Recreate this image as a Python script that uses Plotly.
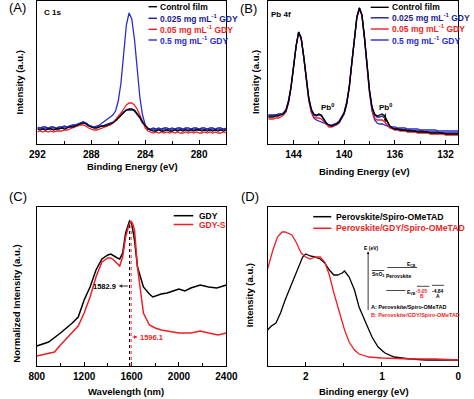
import numpy as np
import plotly.graph_objects as go

W, H = 474, 399
FONT = "Liberation Sans, Arial, sans-serif"

# ---------------- Panel A: C 1s ----------------
a_energy = np.round(292.0 - 0.2 * np.arange(71), 2)
a_control = [14,13,14,13,14,14,13,14,14,15,14,15,16,16,17,18,19,20,19,17,16,15,15,16,17,17,18,19,20,22,
             25,28,31,33,34,34,33,30,26,21,17,14,13,12,12,13,12,12,13,12,12,13,12,13,12,13,12,13,12,13,
             13,12,13,12,13,12,13,12,13,12,13]
a_g0025 = [16,15,16,16,15,16,16,15,16,16,17,16,17,18,18,19,20,21,20,18,17,16,16,17,17,18,19,20,21,23,
           26,29,31,33,33,33,32,29,25,20,17,15,14,15,14,15,14,15,15,14,15,14,15,15,14,15,15,14,15,15,
           14,15,15,14,15,15,14,15,15,14,15]
a_g005 = [11,12,11,12,11,12,11,12,12,12,13,13,14,15,16,17,18,18,17,15,14,13,13,14,15,16,17,18,20,23,
          26,30,34,38,40,40,38,34,28,21,15,12,11,10,11,10,11,10,11,10,11,10,11,10,10,11,10,11,10,11,
          10,10,11,10,11,10,11,10,10,11,10]
a_g05 = [14,15,14,15,14,15,15,14,15,15,16,16,17,17,18,19,20,21,20,18,16,16,17,18,20,22,24,26,28,32,
         42,60,92,118,130,124,104,74,46,28,18,14,13,14,13,14,13,14,13,14,13,14,13,14,13,14,13,14,13,14,
         13,14,13,14,13,14,13,14,13,14,13]

# ---------------- Panel B: Pb 4f ----------------
b_energy = np.round(146.0 - 0.2 * np.arange(76), 2)
b_control = [28,28,28,29,29,30,31,34,43,58,78,99,113,107,89,66,47,36,31,30,31,30,26,22,20,19,20,21,23,27,
             32,42,58,82,108,128,137,130,108,80,55,38,31,29,30,31,29,24,19,17,16,16,15,15,15,14,14,14,14,13,
             13,13,13,13,12,12,12,12,12,12,11,11,11,11,11,11]
b_g005 = [26,26,26,27,27,28,30,33,42,57,77,98,112,106,88,64,45,33,28,27,27,26,23,20,18,18,19,20,22,26,
          31,41,57,81,107,127,136,129,106,78,52,35,27,25,25,25,23,20,17,16,15,15,14,14,14,13,13,13,13,12,
          12,12,12,12,11,11,11,11,11,11,10,10,10,10,10,10]
b_g0025 = [30,30,30,30,31,31,32,35,44,58,78,99,113,107,89,66,47,35,30,29,30,29,25,21,20,19,20,21,23,27,
           32,42,58,82,108,128,137,130,108,79,54,37,30,28,28,29,27,23,19,17,16,16,16,15,15,15,15,14,14,14,
           14,14,13,13,13,13,13,13,12,12,12,12,12,12,12,12]
b_g05 = [29,29,29,30,30,31,32,35,44,58,78,99,113,107,88,64,45,33,27,25,24,23,22,21,20,20,21,22,24,28,
         33,43,59,83,108,128,137,130,107,78,52,34,25,22,21,21,20,19,18,18,18,17,17,17,17,16,16,16,16,16,
         15,15,15,15,15,15,15,14,14,14,14,14,14,14,14,14]
assert len(a_control) == len(a_g0025) == len(a_g005) == len(a_g05) == len(a_energy)
assert len(b_control) == len(b_g005) == len(b_g0025) == len(b_g05) == len(b_energy)

# ---------------- Panel C: spectra ----------------
c_gdy_wl = [800,900,1000,1100,1150,1200,1250,1300,1350,1400,1425,1450,1480,1500,1525,1550,1570,1583,1600,
            1625,1650,1700,1750,1780,1850,1900,1950,2000,2050,2100,2180,2250,2320,2400]
c_gdy = [18,22,31,41,47,64,77,94,105,109,110,108,106,105,111,131,140,143,141,
         124,97,77,70,67,70,71,73,75,73,76,79,77,76,79]
c_gdys_wl = [800,900,950,1000,1100,1150,1200,1250,1300,1350,1400,1425,1450,1500,1525,1550,1575,1596,1610,
             1625,1650,1675,1700,1750,1800,1850,1900,2000,2100,2180,2250,2330,2400]
c_gdys = [8,11,12,19,31,38,51,67,87,102,106,106,104,98,107,127,138,143,140,
          134,97,71,51,39,36,34,33,31,31,33,31,29,31]
c_peaks = [1582.9, 1596.1]

# ---------------- Panel D: UPS ----------------
d_ref_e = [2.5,2.45,2.39,2.33,2.27,2.18,2.10,2.04,2.0,1.94,1.88,1.81,1.75,1.69,1.63,1.58,1.55,1.52,1.49,
           1.43,1.36,1.30,1.21,1.13,1.05,0.96,0.84,0.63,0.42,0.2,0.0]
d_ref = [37,41,44,54,67,84,100,110,113,111,110,108,104,97,92,92,93,94,96,
         90,77,60,44,30,20,14,10,8,7,7,7]
d_gdy_e = [2.5,2.43,2.37,2.31,2.27,2.22,2.18,2.12,2.06,2.0,1.94,1.88,1.81,1.75,1.69,1.63,1.55,1.49,
           1.43,1.36,1.30,1.17,1.0,0.62,0.3,0.0]
d_gdy = [98,117,130,135,135,133,132,124,114,110,108,110,110,105,92,74,54,37,
         25,17,13,10,9,8,8,7]

BLACK = "#000000"
NAVY = "#1c1c8c"
RED = "#f01e24"
BLUE = "#2a2ad6"

def PX(x):
    return x / W

def PY(y):
    return 1 - y / H

fig = go.Figure()
lw = 1.3
fig.add_trace(go.Scatter(x=a_energy, y=a_g0025, mode="lines", line=dict(color=NAVY, width=lw), xaxis="x", yaxis="y"))
fig.add_trace(go.Scatter(x=a_energy, y=a_g05, mode="lines", line=dict(color=BLUE, width=lw), xaxis="x", yaxis="y"))
fig.add_trace(go.Scatter(x=a_energy, y=a_g005, mode="lines", line=dict(color=RED, width=lw), xaxis="x", yaxis="y"))
fig.add_trace(go.Scatter(x=a_energy, y=a_control, mode="lines", line=dict(color=BLACK, width=lw), xaxis="x", yaxis="y"))

fig.add_trace(go.Scatter(x=b_energy, y=b_g05, mode="lines", line=dict(color=BLUE, width=lw), xaxis="x2", yaxis="y2"))
fig.add_trace(go.Scatter(x=b_energy, y=b_g005, mode="lines", line=dict(color=RED, width=lw), xaxis="x2", yaxis="y2"))
fig.add_trace(go.Scatter(x=b_energy, y=b_g0025, mode="lines", line=dict(color=NAVY, width=lw), xaxis="x2", yaxis="y2"))
fig.add_trace(go.Scatter(x=b_energy, y=b_control, mode="lines", line=dict(color=BLACK, width=lw), xaxis="x2", yaxis="y2"))

fig.add_trace(go.Scatter(x=c_gdy_wl, y=c_gdy, mode="lines", line=dict(color=BLACK, width=1.5), xaxis="x3", yaxis="y3"))
fig.add_trace(go.Scatter(x=c_gdys_wl, y=c_gdys, mode="lines", line=dict(color=RED, width=1.5), xaxis="x3", yaxis="y3"))

fig.add_trace(go.Scatter(x=d_ref_e, y=d_ref, mode="lines", line=dict(color=BLACK, width=1.3), xaxis="x4", yaxis="y4"))
fig.add_trace(go.Scatter(x=d_gdy_e, y=d_gdy, mode="lines", line=dict(color=RED, width=1.3), xaxis="x4", yaxis="y4"))

tickfont = dict(family=FONT, size=10, color="black", weight="bold")

def xax(rng, dom, dtick, minor, tick0):
    return dict(range=rng, domain=dom, showline=True, linecolor="black", linewidth=1.3, mirror=True,
                ticks="inside", ticklen=4, tickwidth=1, tickcolor="black", dtick=dtick, tick0=tick0,
                minor=dict(ticks="inside", ticklen=2.5, dtick=minor, tickcolor="black"),
                showgrid=False, zeroline=False, tickfont=tickfont, ticklabelstandoff=1)

def yax(rng, dom, anchor):
    return dict(range=rng, domain=dom, showline=True, linecolor="black", linewidth=1.3, mirror=True,
                ticks="", showticklabels=False, showgrid=False, zeroline=False, anchor=anchor)

xa = [PX(30.7), PX(227.7)]
xb = [PX(271.7), PX(470)]
xc = [PX(30), PX(228)]
xd = [PX(271), PX(470)]
ytop = [PY(144), PY(1)]
ybot = [PY(366), PY(207)]

fig.update_layout(
    width=W, height=H, autosize=False, margin=dict(l=0, r=0, t=0, b=0),
    paper_bgcolor="white", plot_bgcolor="white", showlegend=False,
    font=dict(family=FONT, color="black"),
    xaxis=dict(xax([292, 278], xa, 4, 2, 280), anchor="y"),
    yaxis=yax([-1, 142], ytop, "x"),
    xaxis2=dict(xax([146, 131], xb, 4, 2, 132), anchor="y2"),
    yaxis2=yax([1, 144], ytop, "x2"),
    xaxis3=dict(xax([800, 2400], xc, 400, 200, 800), anchor="y3"),
    yaxis3=yax([-2, 157], ybot, "x3"),
    xaxis4=dict(xax([2.5, 0], xd, 1, 0.5, 0), anchor="y4"),
    yaxis4=yax([1, 160], ybot, "x4"),
)

ann = []
shapes = []

def txt(x, y, s, size, color="black", xanchor="center", yanchor="middle", bold=True, angle=0):
    ann.append(dict(x=PX(x), y=PY(y), xref="paper", yref="paper", text=(f"<b>{s}</b>" if bold else s),
                    showarrow=False, xanchor=xanchor, yanchor=yanchor, textangle=angle,
                    font=dict(family=FONT, size=size, color=color)))

def hline(x0, x1, y, color, width=1.4):
    shapes.append(dict(type="line", xref="paper", yref="paper", x0=PX(x0), x1=PX(x1), y0=PY(y), y1=PY(y),
                       line=dict(color=color, width=width)))

# panel labels
txt(-1, 7, "(A)", 13, bold=False, xanchor="left")
txt(240, 8, "(B)", 13, bold=False, xanchor="left")
txt(-1, 196, "(C)", 13, bold=False, xanchor="left")
txt(241, 196, "(D)", 13, bold=False, xanchor="left")

# axis titles
txt(12, 82, "Intensity (a.u.)", 9.5, angle=-90)
txt(130, 166, "Binding Energy (eV)", 9.5)
txt(258, 82, "Intensity (a.u.)", 9.5, angle=-90)
txt(372, 171, "Binding Energy (eV)", 9.5)
txt(8, 304, "Normalized Intensity (a.u.)", 9.5, angle=-90)
txt(123, 391, "Wavelength (nm)", 9.5)
txt(252, 295, "Intensity (a.u.)", 9.5, angle=-90)
txt(372, 391, "Binding energy (eV)", 9.5)

# inner labels
txt(35, 13, "C 1s", 8, xanchor="left")
txt(273, 14, "Pb 4f", 8, xanchor="left")
txt(334, 107, "Pb<sup>0</sup>", 8)
txt(394, 107, "Pb<sup>0</sup>", 8)
ann.append(dict(x=136.75, y=23, xref="x2", yref="y2", ax=136.75, ay=33, axref="x2", ayref="y2",
                showarrow=True, arrowhead=2, arrowsize=0.6, arrowwidth=1, arrowcolor="black", text=""))

# legends A and B
leg_a = [("Control film", BLACK), ("0.025 mg mL<sup>-1</sup> GDY", NAVY),
         ("0.05 mg mL<sup>-1</sup> GDY", RED), ("0.5 mg mL<sup>-1</sup> GDY", BLUE)]
for i, (s, c) in enumerate(leg_a):
    yy = [6.7, 18.3, 29.3, 40][i]
    hline(146.7, 155.5, yy, c)
    txt(156.5, yy, s, 8.5, color=c, xanchor="left")
    yb = [7.3, 17.8, 29, 40][i]
    hline(378.7, 397.5, yb, c)
    txt(398.5, yb, s, 8.5, color=c, xanchor="left")

# legend C
hline(173, 193.5, 215.7, BLACK, 1.5)
txt(197, 215.7, "GDY", 8.5, xanchor="left")
hline(173, 193.5, 224.5, RED, 1.5)
txt(197, 224.5, "GDY-S", 8.5, color=RED, xanchor="left")

# peak markers C
for pk, col in zip(c_peaks, [BLACK, RED]):
    shapes.append(dict(type="line", xref="x3", yref="y3", x0=pk, x1=pk, y0=-2, y1=143,
                       line=dict(color=col, width=1, dash="dot")))
ann.append(dict(x=1492, y=78, xref="x3", yref="y3", ax=1582.9, ay=78, axref="x3", ayref="y3",
                showarrow=True, arrowhead=2, arrowsize=0.7, arrowwidth=1, arrowcolor="#333333", text=""))
ann.append(dict(x=1488, y=78, xref="x3", yref="y3", text="<b>1582.9</b>", showarrow=False,
                xanchor="right", font=dict(family=FONT, size=7.5, color=BLACK)))
ann.append(dict(x=1650, y=27, xref="x3", yref="y3", ax=1596.1, ay=27, axref="x3", ayref="y3",
                showarrow=True, arrowhead=2, arrowsize=0.7, arrowwidth=1, arrowcolor=RED, text=""))
ann.append(dict(x=1655, y=27, xref="x3", yref="y3", text="<b>1596.1</b>", showarrow=False,
                xanchor="left", font=dict(family=FONT, size=7.5, color=RED)))

# legend D
hline(318.7, 337.5, 216.7, BLACK, 1.5)
txt(340, 216.7, "Perovskite/Spiro-OMeTAD", 8.7, xanchor="left")
hline(318.7, 337.5, 228.3, RED, 1.5)
txt(340, 228.3, "Perovskite/GDY/Spiro-OMeTAD", 8.7, color=RED, xanchor="left")

# inset energy diagram D
txt(370, 248.3, "E (eV)", 5, xanchor="left")
ann.append(dict(x=PX(376), y=PY(251.5), xref="paper", yref="paper", ax=0, ay=60, showarrow=True,
                arrowhead=2, arrowsize=0.6, arrowwidth=0.8, arrowcolor="black", text=""))
hline(380, 392.7, 270.5, "#333333", 0.9)
txt(386.5, 274.5, "SnO<sub>2</sub>", 5)
hline(396, 427, 267.5, "#333333", 0.9)
txt(421, 264, "E<sub>CB</sub>", 5)
txt(408, 276, "Perovskite", 5)
hline(395, 415, 290.5, "#333333", 0.9)
txt(421, 292.5, "E<sub>VB</sub>", 5)
hline(427, 440, 286.3, "#333333", 0.9)
txt(432.5, 290.7, "-5.05", 5, color=RED)
txt(432.5, 296.3, "B", 5, color=RED)
hline(442.7, 455.3, 285.3, "#333333", 0.9)
txt(448.7, 290.7, "-4.84", 5)
txt(448.7, 296.3, "A", 5)
txt(377.3, 306.7, "A: Perovskite/Spiro-OMeTAD", 5.5, xanchor="left")
txt(377.3, 315, "B: Perovskite/GDY/Spiro-OMeTAD", 5.5, color=RED, xanchor="left")

fig.update_layout(annotations=ann, shapes=shapes)
fig.write_html("out.html", config={"displayModeBar": False},
               post_script="document.body.style.margin='0';document.body.style.overflow='hidden';")
